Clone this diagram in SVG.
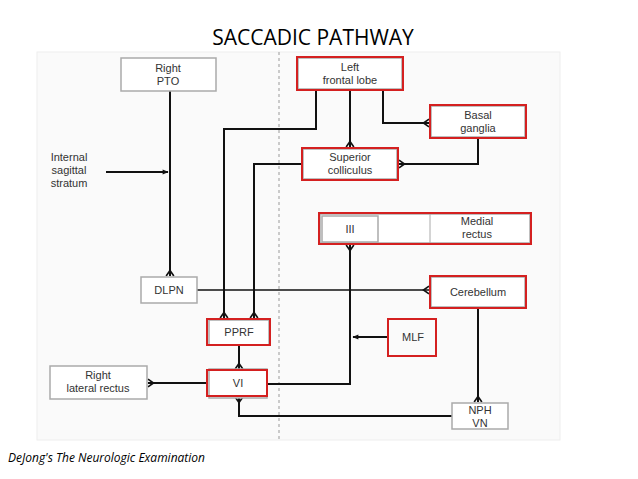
<svg xmlns="http://www.w3.org/2000/svg" width="638" height="479" viewBox="0 0 638 479">
<defs>
<style>
text{font-family:"Liberation Sans",Arial,sans-serif;font-size:11px;fill:#333;text-anchor:middle}
.g{fill:#fff;stroke:#aaa;stroke-width:1.5}
.r{fill:none;stroke:#d42020;stroke-width:2}
.c{fill:none;stroke:#111;stroke-width:2}
.t{fill:none;stroke:#111;stroke-width:1.3}
</style>
<marker id="v" viewBox="0 0 10 10" refX="9" refY="5" markerWidth="11" markerHeight="11" orient="auto" markerUnits="userSpaceOnUse"><path d="M9,1.5 L4,5 L9,8.5" fill="none" stroke="#111" stroke-width="1.5"/></marker>
<marker id="a" viewBox="0 0 10 10" refX="9" refY="5" markerWidth="8" markerHeight="6" orient="auto" markerUnits="userSpaceOnUse"><path d="M0,1 L10,5 L0,9 Z" fill="#111"/></marker>
</defs>
<rect width="638" height="479" fill="#fff"/>
<rect x="37" y="52" width="523" height="388" fill="#fafafa" stroke="#eee"/>
<line x1="279" y1="52" x2="279" y2="440" stroke="#bbb" stroke-width="1.5" stroke-dasharray="3,3"/>
<text x="313" y="45" style="font-size:21px;fill:#000;font-family:'Open Sans','Liberation Sans',sans-serif">SACCADIC PATHWAY</text>
<text x="8" y="462" style="font-size:12px;font-style:italic;fill:#000;text-anchor:start;font-family:'Open Sans','Liberation Sans',sans-serif">DeJong's The Neurologic Examination</text>
<text x="69" y="161">Internal</text><text x="69" y="174">sagittal</text><text x="69" y="187">stratum</text>
<g id="connectors">
<path class="c" d="M106,172 H168" marker-end="url(#a)"/>
<path class="c" d="M170,91 V276" marker-end="url(#v)"/>
<path class="c" d="M316,90 V129 H224 V318" marker-end="url(#v)"/>
<path class="c" d="M350,90 V147" marker-end="url(#v)"/>
<path class="c" d="M383,90 V123 H429" marker-end="url(#v)"/>
<path class="c" d="M478,138 V164 H399" marker-end="url(#v)"/>
<path class="c" d="M302,164 H254 V318" marker-end="url(#v)"/>
<path class="t" d="M378,229 H429" marker-end="url(#v)"/>
<path class="c" d="M267,384 H350 V245" marker-end="url(#v)"/>
<path class="t" d="M197,290 H429" marker-end="url(#v)"/>
<path class="c" d="M478,308 V402" marker-end="url(#v)"/>
<path class="c" d="M388,337 H353" marker-end="url(#a)"/>
<path class="c" d="M239,345 V369" marker-end="url(#v)"/>
<path class="c" d="M207,383 H148" marker-end="url(#v)"/>
<path class="c" d="M452,416 H239 V397" marker-end="url(#v)"/>
</g>
<g id="rightPTO"><rect class="g" x="121" y="58" width="95" height="33"/><text x="168" y="72">Right</text><text x="168" y="85">PTO</text></g>
<g id="leftFrontal"><rect class="g" x="298" y="58" width="104" height="31"/><rect class="r" x="297" y="57" width="106" height="33"/><text x="350" y="71">Left</text><text x="350" y="84">frontal lobe</text></g>
<g id="basal"><rect class="g" x="431" y="106" width="94" height="31"/><rect class="r" x="430" y="105" width="96" height="33"/><text x="478" y="119">Basal</text><text x="478" y="132">ganglia</text></g>
<g id="sc"><rect class="g" x="303" y="149" width="94" height="30"/><rect class="r" x="302" y="148" width="96" height="32"/><text x="350" y="161">Superior</text><text x="350" y="174">colliculus</text></g>
<g id="iii"><rect class="g" x="320" y="214" width="210" height="29"/><rect class="g" x="322" y="216" width="56" height="26"/><line x1="430" y1="214" x2="430" y2="243" stroke="#aaa"/><rect class="r" x="319" y="213" width="212" height="31"/><text x="350" y="233">III</text><text x="477" y="225">Medial</text><text x="477" y="238">rectus</text></g>
<g id="dlpn"><rect class="g" x="141" y="277" width="56" height="26"/><text x="169" y="294">DLPN</text></g>
<g id="cerebellum"><rect class="g" x="431" y="277" width="94" height="30"/><rect class="r" x="430" y="276" width="96" height="32"/><text x="478" y="296">Cerebellum</text></g>
<g id="pprf"><rect class="g" x="209" y="320" width="60" height="25"/><rect class="r" x="207" y="319" width="63" height="26"/><text x="239" y="336">PPRF</text></g>
<g id="mlf"><rect class="r" x="388" y="319" width="48" height="37"/><text x="413" y="341">MLF</text></g>
<g id="vi"><rect class="g" x="209" y="369" width="58" height="29"/><rect class="r" x="207" y="370" width="60" height="26"/><text x="238" y="387">VI</text></g>
<g id="rlr"><rect class="g" x="50" y="366" width="97" height="33"/><text x="98" y="379">Right</text><text x="98" y="392">lateral rectus</text></g>
<g id="nph"><rect class="g" x="452" y="403" width="56" height="26"/><text x="480" y="414">NPH</text><text x="480" y="427">VN</text></g>
</svg>
